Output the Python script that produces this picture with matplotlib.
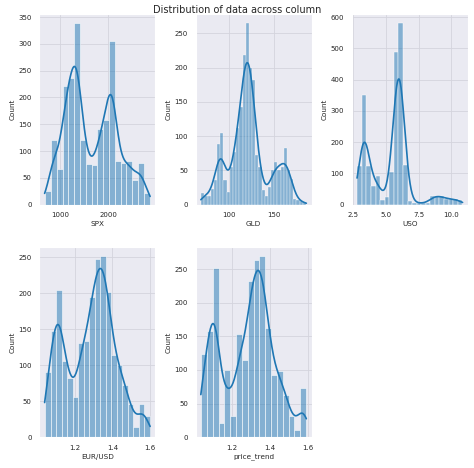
import numpy as np
import matplotlib
matplotlib.use('Agg')
import matplotlib.pyplot as plt
from matplotlib.ticker import MultipleLocator
import seaborn as sns

# column names shown under each histogram
columns = ['SPX', 'GLD', 'USO', 'EUR/USD', 'price_trend']

# bar heights (Count), left to right
spx_counts = [25, 120, 67, 221, 236, 339, 121, 76, 74, 141, 158, 306, 81, 77, 82, 46, 77, 21]
gld_counts = [17, 13, 13, 22, 36, 89, 104, 36, 18, 55, 77, 112, 143, 218, 265, 200, 182,
              72, 55, 21, 12, 25, 50, 62, 51, 55, 83, 50, 38, 8, 6, 5, 3]
uso_counts = [122, 350, 122, 59, 90, 13, 24, 105, 490, 581, 126, 11, 6, 4, 4, 6,
              27, 28, 26, 19, 17, 17, 13]
eur_counts = [90, 147, 204, 106, 82, 56, 131, 134, 195, 247, 252, 202, 114, 100, 73, 46, 14, 46, 29]
trend_counts = [123, 158, 251, 21, 100, 31, 153, 115, 233, 264, 270, 163, 93, 98, 63, 31, 10, 73]

# min / max of each column (histogram range)
spx_range = (676.53, 2872.87)
gld_range = (70.0, 184.59)
uso_range = (2.821, 10.839)
eur_range = (1.039, 1.599)
trend_range = (1.040, 1.590)

# x tick spacing seen on each panel
x_steps = [1000, 50, 2.5, 0.2, 0.2]

all_counts = [spx_counts, gld_counts, uso_counts, eur_counts, trend_counts]
all_ranges = [spx_range, gld_range, uso_range, eur_range, trend_range]

sns.set_style('darkgrid')
plt.rcParams.update({
    'font.size': 5,
    'axes.labelsize': 5.2,
    'xtick.labelsize': 5,
    'ytick.labelsize': 5,
    'grid.color': '#d4d4dd',
    'grid.linewidth': 0.6,
    'xtick.major.pad': 2,
    'ytick.major.pad': 2,
    'axes.labelpad': 2,
})

fig = plt.figure(figsize=(4.74, 4.68), dpi=100)
fig.suptitle('Distribution of data across column', fontsize=7, y=0.99)

for i in range(len(columns)):
    ax = fig.add_subplot(2, 3, i + 1)
    counts = np.array(all_counts[i], dtype=float)
    lo, hi = all_ranges[i]
    width = (hi - lo) / len(counts)
    centers = lo + width * (np.arange(len(counts)) + 0.5)
    # bandwidth as if the kde ran on the raw observations,
    # minus the spread the binning already adds
    n = counts.sum()
    neff = n ** 2 / (counts ** 2).sum()
    mean = np.average(centers, weights=counts)
    std = np.sqrt(np.average((centers - mean) ** 2, weights=counts))
    bw_raw = std * n ** -0.2
    bw = np.sqrt(max(bw_raw ** 2 - width ** 2 / 12, (0.5 * bw_raw) ** 2))
    adj = bw / (std * neff ** -0.2)
    cut = width / 2 / bw
    sns.histplot(x=centers, weights=counts, bins=len(counts), binrange=(lo, hi),
                 kde=True, kde_kws={'bw_adjust': adj, 'cut': cut}, alpha=0.5,
                 line_kws={'linewidth': 1.2}, ax=ax)
    ax.xaxis.set_major_locator(MultipleLocator(x_steps[i]))
    ax.set_xlabel(columns[i])

fig.subplots_adjust(left=0.083, right=0.987, bottom=0.066, top=0.970,
                    wspace=0.346, hspace=0.221)
fig.savefig('out.png', dpi=100)
